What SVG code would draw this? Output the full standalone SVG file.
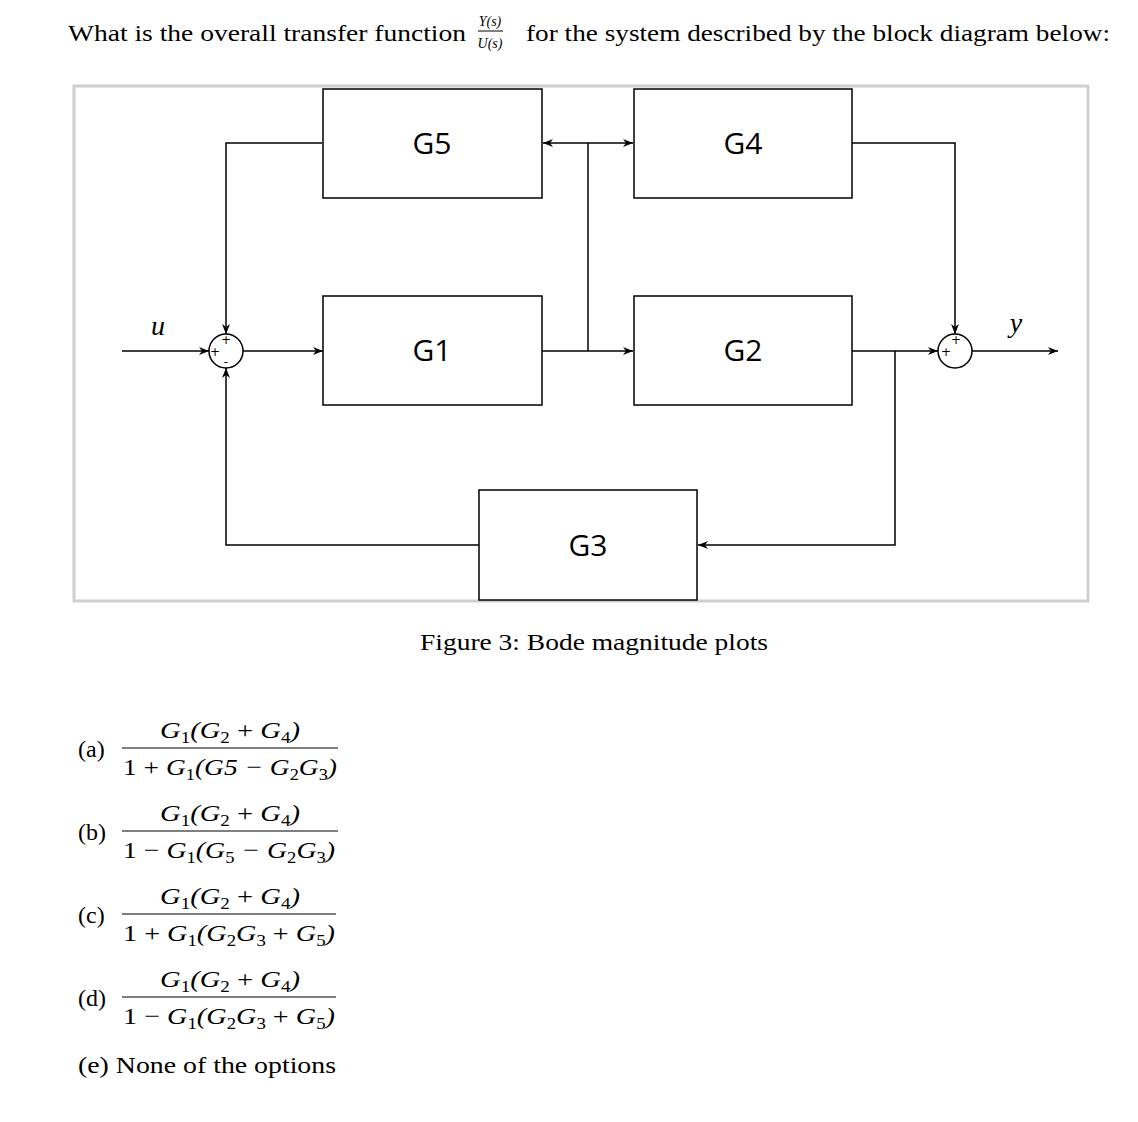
<svg xmlns="http://www.w3.org/2000/svg" width="1138" height="1122" viewBox="0 0 1138 1122">
<defs>
<marker id="ah" markerWidth="10" markerHeight="8" refX="10" refY="4" orient="auto" markerUnits="userSpaceOnUse"><path d="M0,0 L10,4 L0,8 L3,4 z" fill="#000"/></marker>
<style>
.t{font-family:"Liberation Serif","DejaVu Serif",serif;fill:#000}
.b{fill:#fff;stroke:#000;stroke-width:1.5}
.bl{font-family:"Open Sans","DejaVu Sans",sans-serif;font-size:30px;text-anchor:middle}
.l{fill:none;stroke:#000;stroke-width:1.5}
.s{fill:#fff;stroke:#000;stroke-width:1.5}
.m{font-family:"Liberation Serif",serif;font-style:italic;font-size:24px}
.p{font-family:"DejaVu Sans",sans-serif;font-size:12px;text-anchor:middle}
</style>
</defs>
<rect width="1138" height="1122" fill="#fff"/>
<text class="t" x="68" y="41" font-size="24" textLength="398" lengthAdjust="spacingAndGlyphs">What is the overall transfer function</text>
<text class="t" x="490" y="26" font-size="14" font-style="italic" text-anchor="middle">Y(s)</text>
<line x1="478" y1="31" x2="503" y2="31" stroke="#000" stroke-width="1"/>
<text class="t" x="490" y="48" font-size="14" font-style="italic" text-anchor="middle">U(s)</text>
<text class="t" x="526" y="41" font-size="24" textLength="584" lengthAdjust="spacingAndGlyphs">for the system described by the block diagram below:</text>
<rect x="74" y="86" width="1014" height="515" fill="#fff" stroke="#d0d0d0" stroke-width="3"/>
<g id="connectors">
<path class="l" d="M122,351 H209" marker-end="url(#ah)"/>
<path class="l" d="M243,351 H323" marker-end="url(#ah)"/>
<path class="l" d="M542,351 H633" marker-end="url(#ah)"/>
<path class="l" d="M588,351 V143"/>
<path class="l" d="M588,143 H543" marker-end="url(#ah)"/>
<path class="l" d="M588,143 H633" marker-end="url(#ah)"/>
<path class="l" d="M322,143 H226 V334" marker-end="url(#ah)"/>
<path class="l" d="M852,143 H955 V334" marker-end="url(#ah)"/>
<path class="l" d="M852,351 H938" marker-end="url(#ah)"/>
<path class="l" d="M972,351 H1058" marker-end="url(#ah)"/>
<path class="l" d="M895,351 V545 H698" marker-end="url(#ah)"/>
<path class="l" d="M479,545 H226 V368" marker-end="url(#ah)"/>
</g>
<g id="G5"><rect class="b" x="323" y="89" width="219" height="109"/><text class="bl" x="432" y="154">G5</text></g>
<g id="G4"><rect class="b" x="634" y="89" width="218" height="109"/><text class="bl" x="743" y="154">G4</text></g>
<g id="G1"><rect class="b" x="323" y="296" width="219" height="109"/><text class="bl" x="432" y="361">G1</text></g>
<g id="G2"><rect class="b" x="634" y="296" width="218" height="109"/><text class="bl" x="743" y="361">G2</text></g>
<g id="G3"><rect class="b" x="479" y="490" width="218" height="110"/><text class="bl" x="588" y="556">G3</text></g>
<g id="sum1"><circle class="s" cx="226" cy="351" r="17"/>
<text class="p" x="226" y="344">+</text>
<text class="p" x="215" y="356">+</text>
<text class="p" x="226" y="366">-</text></g>
<g id="sum2"><circle class="s" cx="955" cy="351" r="17"/>
<text class="p" x="956" y="344">+</text>
<text class="p" x="946" y="356">+</text></g>
<text class="t" x="158" y="335" font-size="28" font-style="italic" text-anchor="middle">u</text>
<text class="t" x="1016" y="332" font-size="28" font-style="italic" text-anchor="middle">y</text>
<text class="t" x="420" y="650" font-size="24" textLength="348" lengthAdjust="spacingAndGlyphs">Figure 3: Bode magnitude plots</text>
<g class="t">
<text x="78" y="757" font-size="24">(a)</text>
<text class="m" x="160" y="738" textLength="140" lengthAdjust="spacingAndGlyphs">G<tspan font-size="16" font-style="normal" dy="5">1</tspan><tspan dy="-5">(G</tspan><tspan font-size="16" font-style="normal" dy="5">2</tspan><tspan dy="-5" font-style="normal"> + </tspan><tspan>G</tspan><tspan font-size="16" font-style="normal" dy="5">4</tspan><tspan dy="-5">)</tspan></text>
<line x1="122" y1="748" x2="338" y2="748" stroke="#000" stroke-width="1.2"/>
<text class="m" x="123" y="775" textLength="214" lengthAdjust="spacingAndGlyphs"><tspan font-style="normal">1 + </tspan>G<tspan font-size="16" font-style="normal" dy="5">1</tspan><tspan dy="-5">(G5 − G</tspan><tspan font-size="16" font-style="normal" dy="5">2</tspan><tspan dy="-5">G</tspan><tspan font-size="16" font-style="normal" dy="5">3</tspan><tspan dy="-5">)</tspan></text>
<text x="78" y="840" font-size="24">(b)</text>
<text class="m" x="160" y="821" textLength="140" lengthAdjust="spacingAndGlyphs">G<tspan font-size="16" font-style="normal" dy="5">1</tspan><tspan dy="-5">(G</tspan><tspan font-size="16" font-style="normal" dy="5">2</tspan><tspan dy="-5" font-style="normal"> + </tspan><tspan>G</tspan><tspan font-size="16" font-style="normal" dy="5">4</tspan><tspan dy="-5">)</tspan></text>
<line x1="122" y1="831" x2="338" y2="831" stroke="#000" stroke-width="1.2"/>
<text class="m" x="123" y="858" textLength="212" lengthAdjust="spacingAndGlyphs"><tspan font-style="normal">1 − </tspan>G<tspan font-size="16" font-style="normal" dy="5">1</tspan><tspan dy="-5">(G</tspan><tspan font-size="16" font-style="normal" dy="5">5</tspan><tspan dy="-5"> − G</tspan><tspan font-size="16" font-style="normal" dy="5">2</tspan><tspan dy="-5">G</tspan><tspan font-size="16" font-style="normal" dy="5">3</tspan><tspan dy="-5">)</tspan></text>
<text x="78" y="923" font-size="24">(c)</text>
<text class="m" x="160" y="904" textLength="140" lengthAdjust="spacingAndGlyphs">G<tspan font-size="16" font-style="normal" dy="5">1</tspan><tspan dy="-5">(G</tspan><tspan font-size="16" font-style="normal" dy="5">2</tspan><tspan dy="-5" font-style="normal"> + </tspan><tspan>G</tspan><tspan font-size="16" font-style="normal" dy="5">4</tspan><tspan dy="-5">)</tspan></text>
<line x1="122" y1="914" x2="336" y2="914" stroke="#000" stroke-width="1.2"/>
<text class="m" x="123" y="941" textLength="212" lengthAdjust="spacingAndGlyphs"><tspan font-style="normal">1 + </tspan>G<tspan font-size="16" font-style="normal" dy="5">1</tspan><tspan dy="-5">(G</tspan><tspan font-size="16" font-style="normal" dy="5">2</tspan><tspan dy="-5">G</tspan><tspan font-size="16" font-style="normal" dy="5">3</tspan><tspan dy="-5" font-style="normal"> + </tspan><tspan>G</tspan><tspan font-size="16" font-style="normal" dy="5">5</tspan><tspan dy="-5">)</tspan></text>
<text x="78" y="1006" font-size="24">(d)</text>
<text class="m" x="160" y="987" textLength="140" lengthAdjust="spacingAndGlyphs">G<tspan font-size="16" font-style="normal" dy="5">1</tspan><tspan dy="-5">(G</tspan><tspan font-size="16" font-style="normal" dy="5">2</tspan><tspan dy="-5" font-style="normal"> + </tspan><tspan>G</tspan><tspan font-size="16" font-style="normal" dy="5">4</tspan><tspan dy="-5">)</tspan></text>
<line x1="122" y1="997" x2="336" y2="997" stroke="#000" stroke-width="1.2"/>
<text class="m" x="123" y="1024" textLength="212" lengthAdjust="spacingAndGlyphs"><tspan font-style="normal">1 − </tspan>G<tspan font-size="16" font-style="normal" dy="5">1</tspan><tspan dy="-5">(G</tspan><tspan font-size="16" font-style="normal" dy="5">2</tspan><tspan dy="-5">G</tspan><tspan font-size="16" font-style="normal" dy="5">3</tspan><tspan dy="-5" font-style="normal"> + </tspan><tspan>G</tspan><tspan font-size="16" font-style="normal" dy="5">5</tspan><tspan dy="-5">)</tspan></text>
<text x="78" y="1073" font-size="24" textLength="258" lengthAdjust="spacingAndGlyphs">(e) None of the options</text>
</g>
</svg>
